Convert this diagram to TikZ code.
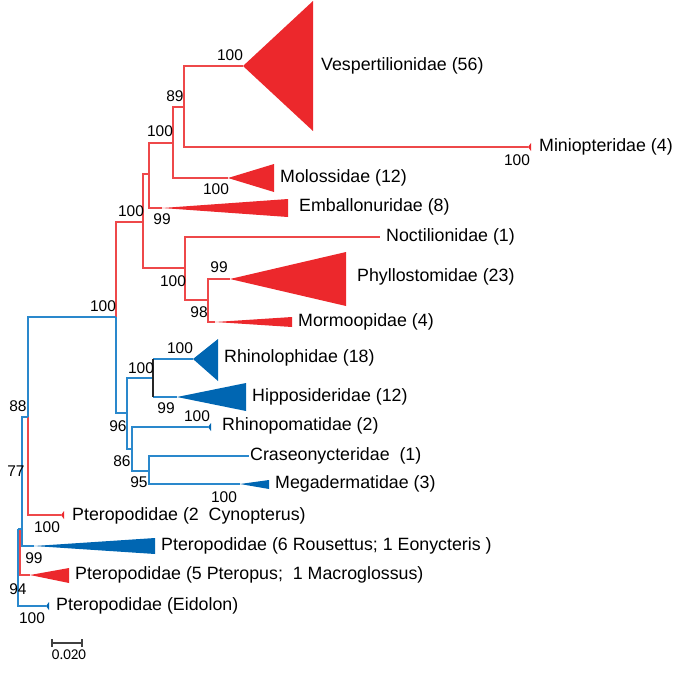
\documentclass[tikz,border=0pt]{standalone}
\usepackage{fontspec}
\setmainfont{Liberation Sans}
\newfontfamily\scalefont{Carlito}
\usetikzlibrary{positioning}
\definecolor{cladered}{RGB}{236,40,44}
\definecolor{branchred}{RGB}{238,72,74}
\definecolor{cladeblue}{RGB}{0,102,178}
\definecolor{branchblue}{RGB}{42,136,204}
\tikzset{
  redbranch/.style={line width=1.3pt, color=branchred},
  bluebranch/.style={line width=1.3pt, color=branchblue},
  darkbranch/.style={line width=1.3pt, color=black!85},
  boot/.style={font=\fontsize{15.5}{15.5}\selectfont, inner sep=0pt},
  taxon/.style={font=\fontsize{17.8}{18}\selectfont, inner sep=0pt, anchor=west},
}

\begin{document}
\begin{tikzpicture}[x=1pt,y=-1pt]
\useasboundingbox (0,0) rectangle (685,672);

% internal nodes
\coordinate (n89) at (184,107);
\coordinate (n100a) at (173,143);
\coordinate (n99) at (149,174);
\coordinate (n100b) at (143,222);
\coordinate (n100c) at (185,268);
\coordinate (n98) at (208,300);
\coordinate (n100root) at (116,317);
\coordinate (n96) at (127,413);
\coordinate (n100d) at (153,378);
\coordinate (n86) at (132,449);
\coordinate (n95) at (149,471);
\coordinate (n88) at (28,417);
\coordinate (n77) at (22,480);
\coordinate (npt) at (20,529);
\coordinate (nroot) at (18,529);

% clade apexes and tips
\coordinate (vesp) at (243,66);
\coordinate (mini) at (528,147);
\coordinate (molo) at (228,178);
\coordinate (emba) at (162,208);
\coordinate (noct) at (380,237);
\coordinate (phyl) at (230,279);
\coordinate (morm) at (215,322);
\coordinate (rhinl) at (193,359);
\coordinate (hipp) at (177,397);
\coordinate (rhinp) at (208,427);
\coordinate (cras) at (249,456);
\coordinate (mega) at (240,484);
\coordinate (cyno) at (61,515);
\coordinate (rous) at (34,546);
\coordinate (pter) at (30,575);
\coordinate (eido) at (46,606);

% red branches
\draw[redbranch] (n89) |- (vesp);
\draw[redbranch] (n89) |- (mini);
\draw[redbranch] (n100a) |- (n89);
\draw[redbranch] (n100a) |- (molo);
\draw[redbranch] (n99) |- (n100a);
\draw[redbranch] (n99) |- (emba);
\draw[redbranch] (n100b) |- (n99);
\draw[redbranch] (n100b) |- (n100c);
\draw[redbranch] (n100c) |- (noct);
\draw[redbranch] (n100c) |- (n98);
\draw[redbranch] (n98) |- (phyl);
\draw[redbranch] (n98) |- (morm);
\draw[redbranch] (n100root) |- (n100b);
\draw[redbranch] (n88) |- (cyno);
\draw[redbranch] (npt) |- (pter);

% blue branches
\draw[bluebranch] (n100root) |- (n96);
\draw[bluebranch] (n96) |- (n100d);
\draw[bluebranch] (n96) |- (n86);
\draw[bluebranch] (rhinl -| n100d) -- (rhinl);
\draw[bluebranch] (hipp -| n100d) -- (hipp);
\draw[darkbranch] (rhinl -| n100d) -- (hipp -| n100d);
\draw[bluebranch] (n86) |- (rhinp);
\draw[bluebranch] (n86) |- (n95);
\draw[bluebranch] (n95) |- (cras);
\draw[bluebranch] (n95) |- (mega);
\draw[bluebranch] (n88) |- (n100root);
\draw[bluebranch] (n77) |- (n88);
\draw[bluebranch] (n77) |- (rous);
\draw[bluebranch] (nroot) -- (n77 |- nroot);
\draw[bluebranch] (nroot) |- (eido);

% collapsed clades
\fill[cladered] (vesp) -- (313,1) -- (313,131) -- cycle;
\fill[cladered] (molo) -- (274,164) -- (274,192) -- cycle;
\fill[cladered] (emba) -- (288,199) -- (288,217) -- cycle;
\fill[cladered] (phyl) -- (346,252) -- (346,306) -- cycle;
\fill[cladered] (morm) -- (292,317) -- (292,327) -- cycle;
\fill[cladered] (mini) -- (531,143) -- (531,151) -- cycle;
\fill[cladered] (cyno) -- (64,511) -- (64,519) -- cycle;
\fill[cladered] (pter) -- (69,568) -- (69,583) -- cycle;
\fill[cladeblue] (rhinl) -- (218,339) -- (218,381) -- cycle;
\fill[cladeblue] (hipp) -- (246,383) -- (246,411) -- cycle;
\fill[cladeblue] (rhinp) -- (211,423) -- (211,431) -- cycle;
\fill[cladeblue] (mega) -- (269,480) -- (269,489) -- cycle;
\fill[cladeblue] (rous) -- (155,538) -- (155,554) -- cycle;
\fill[cladeblue] (eido) -- (49,602) -- (49,610) -- cycle;

% bootstrap values
\node[boot] (b1) at (230,55) {100};
\node[boot] (b2) at (175,96) {89};
\node[boot] (b3) at (517,160) {100};
\node[boot] (b4) at (160,131) {100};
\node[boot] (b5) at (216,189) {100};
\node[boot] (b6) at (162,219) {99};
\node[boot] (b7) at (131,211) {100};
\node[boot] (b8) at (219,267) {99};
\node[boot] (b9) at (173,281) {100};
\node[boot] (b10) at (199,312) {98};
\node[boot] (b11) at (103,306) {100};
\node[boot] (b12) at (180,348) {100};
\node[boot] (b13) at (141,368) {100};
\node[boot] (b14) at (166,408) {99};
\node[boot] (b15) at (118,426) {96};
\node[boot] (b16) at (197,416) {100};
\node[boot] (b17) at (122,461) {86};
\node[boot] (b18) at (139,482) {95};
\node[boot] (b19) at (224,497) {100};
\node[boot] (b20) at (18,406) {88};
\node[boot] (b21) at (16,471) {77};
\node[boot] (b22) at (47,527) {100};
\node[boot] (b23) at (34,558) {99};
\node[boot] (b24) at (18,589) {94};
\node[boot] (b25) at (32,618) {100};

% taxon labels
\node[taxon] (tvesp) at (321,66) {Vespertilionidae (56)};
\node[taxon] (tmini) at (539,147) {Miniopteridae (4)};
\node[taxon] (tmolo) at (280,178) {Molossidae (12)};
\node[taxon] (temba) at (299,207) {Emballonuridae (8)};
\node[taxon] (tnoct) at (386,237) {Noctilionidae (1)};
\node[taxon] (tphyl) at (357,277) {Phyllostomidae (23)};
\node[taxon] (tmorm) at (298,322) {Mormoopidae (4)};
\node[taxon] (trhinl) at (224,358) {Rhinolophidae (18)};
\node[taxon] (thipp) at (252,397) {Hipposideridae (12)};
\node[taxon] (trhinp) at (222,426) {Rhinopomatidae (2)};
\node[taxon] (tcras) at (250,456) {Craseonycteridae\ \ (1)};
\node[taxon] (tmega) at (275,484) {Megadermatidae (3)};
\node[taxon] (tcyno) at (72,516) {Pteropodidae (2\ \ Cynopterus)};
\node[taxon] (trous) at (161,546) {Pteropodidae (6 Rousettus; 1 Eonycteris )};
\node[taxon] (tpter) at (75,575) {Pteropodidae (5 Pteropus;\ \ 1 Macroglossus)};
\node[taxon] (teido) at (56,606) {Pteropodidae (Eidolon)};

% scale bar
\coordinate (sbl) at (52,643);
\coordinate (sbr) at (82,643);
\draw[line width=1.2pt, color=black!75] (sbl) -- (sbr);
\draw[line width=1.2pt, color=black!75] ([yshift=-4pt]sbl) -- ([yshift=4pt]sbl);
\draw[line width=1.2pt, color=black!75] ([yshift=-4pt]sbr) -- ([yshift=4pt]sbr);
\node[font=\scalefont\fontsize{15}{15}\selectfont, inner sep=0pt] (sblabel) at (69,655) {0.020};
\end{tikzpicture}
\end{document}
